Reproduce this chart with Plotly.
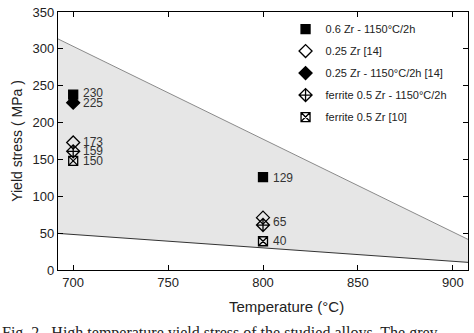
import plotly.graph_objects as go

# Data
temps = [700, 800]
series_names = [
    "0.6 Zr - 1150°C/2h",
    "0.25 Zr [14]",
    "0.25 Zr - 1150°C/2h [14]",
    "ferrite 0.5 Zr - 1150°C/2h",
    "ferrite 0.5 Zr [10]",
]
s_06zr_ht = [238, 126]
s_025zr = [173, 71]
s_025zr_ht_x = [700]
s_025zr_ht = [227]
s_ferr_ht = [161, 61]
s_ferr = [148, 39]

band_x = [690, 910]
band_upper = [316, 39]
band_lower = [50, 10]

label_x = [700, 700, 700, 700, 700, 800, 800, 800]
label_y = [240, 227, 174, 162, 148, 125, 65, 39]
label_text = ["230", "225", "173", "159", "150", "129", "65", "40"]

fig = go.Figure()
fig.add_trace(go.Scatter(x=band_x, y=band_lower, mode="lines",
                         line=dict(color="#333333", width=1), showlegend=False, hoverinfo="skip"))
fig.add_trace(go.Scatter(x=band_x, y=band_upper, mode="lines", fill="tonexty",
                         fillcolor="#e6e6e6",
                         line=dict(color="#8a8a8a", width=1), showlegend=False, hoverinfo="skip"))

mk = dict(color="black", size=9, line=dict(color="black", width=1.3))
series = [
    (temps, s_06zr_ht, "square"),
    (temps, s_025zr, "diamond-open"),
    (s_025zr_ht_x, s_025zr_ht, "diamond"),
    (temps, s_ferr_ht, "diamond-cross-open"),
    (temps, s_ferr, "square-x-open"),
]
for i, ((xs, ys, sym), name) in enumerate(zip(series, series_names)):
    m = dict(mk)
    m["symbol"] = sym
    m["size"] = 10 if "diamond" in sym else 9
    fig.add_trace(go.Scatter(x=xs, y=ys, mode="markers", name=name, marker=m,
                             legendgroup=f"g{i}"))

for lx, ly, lt in zip(label_x, label_y, label_text):
    fig.add_annotation(x=lx, y=ly, text=lt, showarrow=False, xanchor="left",
                       xshift=8, font=dict(family="Arial, Liberation Sans", size=12, color="#333"))

fig.add_annotation(xref="paper", yref="paper", x=0.557, y=-0.141, xanchor="center", yanchor="middle",
                   text="Temperature (°C)", showarrow=False,
                   font=dict(family="Arial, Liberation Sans", size=15, color="#222"))

fig.add_annotation(xref="paper", yref="paper", x=-0.142, y=-0.2, xanchor="left", yanchor="top",
                   text="Fig. 2.  High temperature yield stress of the studied alloys. The grey",
                   showarrow=False,
                   font=dict(family="Liberation Serif, Times New Roman", size=16, color="#222"))

axis_common = dict(showline=True, linecolor="black", linewidth=1.2, mirror="ticks",
                   ticks="inside", ticklen=5, tickcolor="black", showgrid=False, zeroline=False,
                   tickfont=dict(family="Arial, Liberation Sans", size=13, color="#222"))
fig.update_xaxes(range=[692, 908], tickvals=[700, 750, 800, 850, 900], **axis_common)
fig.update_yaxes(range=[0, 350], tickvals=[0, 50, 100, 150, 200, 250, 300, 350],
                 title=dict(text="Yield stress ( MPa )", standoff=6,
                            font=dict(family="Arial, Liberation Sans", size=14, color="#222")),
                 **axis_common)

fig.update_layout(
    width=474, height=333,
    margin=dict(l=58, r=5, t=8, b=63),
    paper_bgcolor="white", plot_bgcolor="white",
    legend=dict(x=0.555, y=0.99, xanchor="left", yanchor="top", bgcolor="rgba(0,0,0,0)",
                tracegroupgap=3,
                font=dict(family="Arial, Liberation Sans", size=11, color="#222")),
)
fig.write_html("out.html")
